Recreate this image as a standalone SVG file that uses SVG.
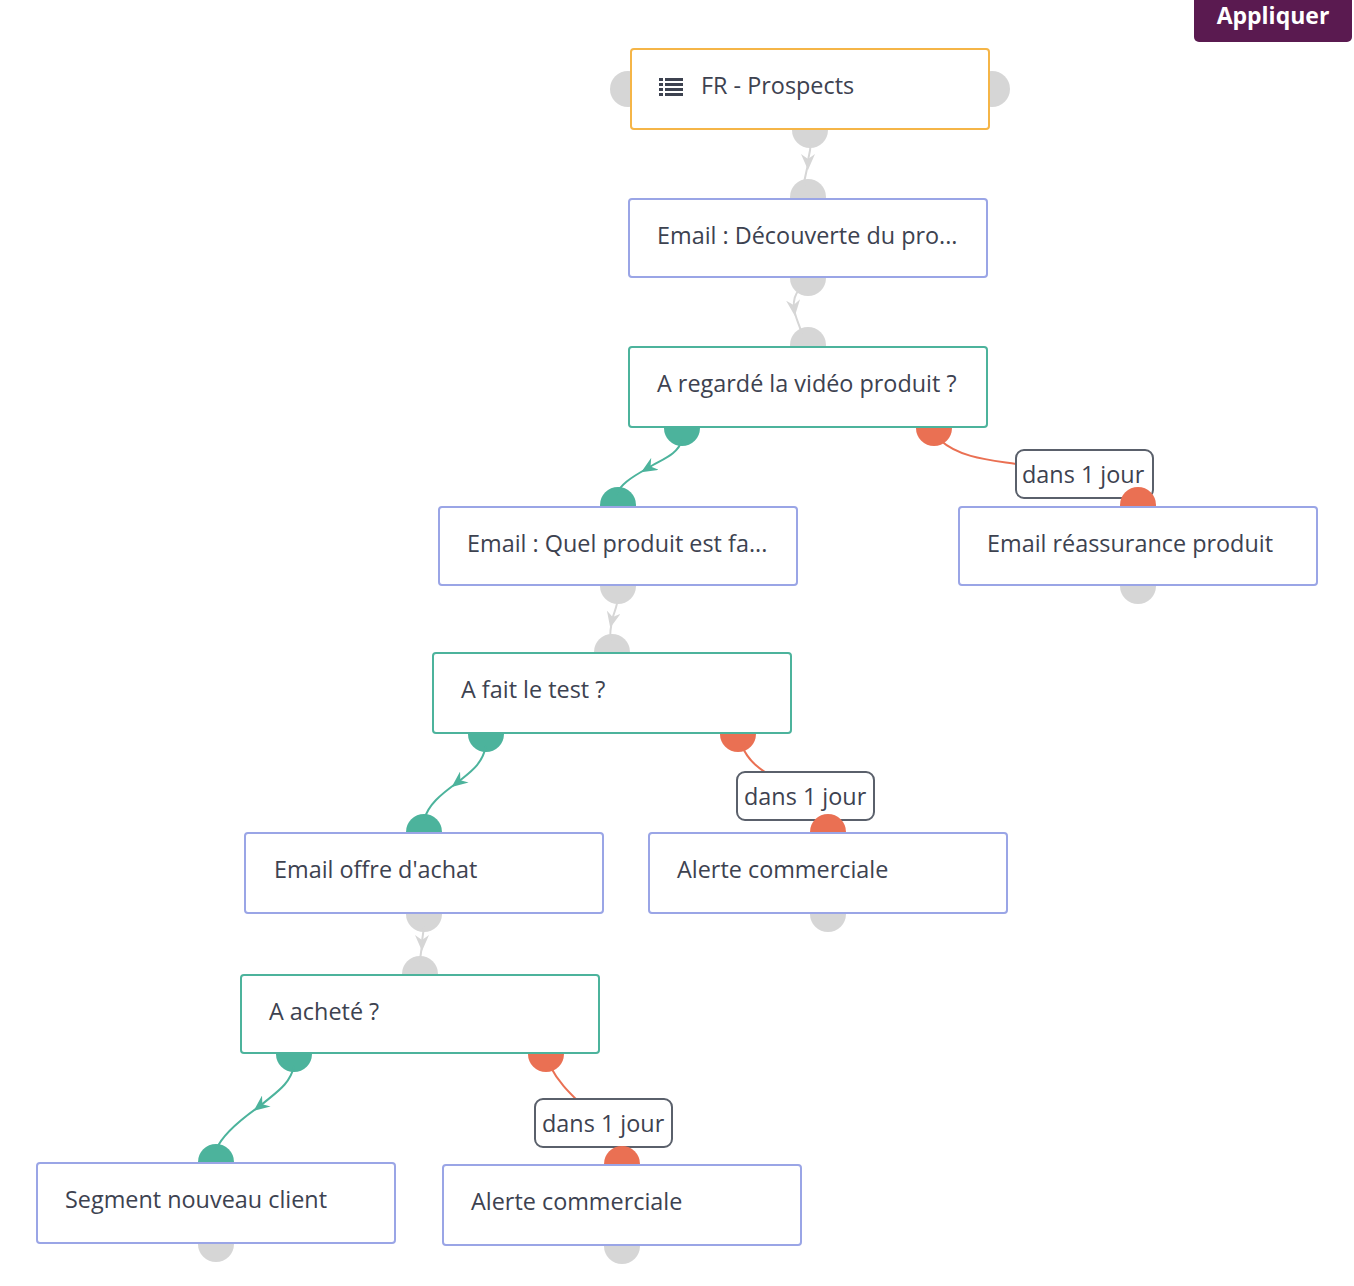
<svg xmlns="http://www.w3.org/2000/svg" width="1354" height="1286" viewBox="0 0 1354 1286">
<style>
.n{fill:#fff;stroke-width:2}
.e{stroke:#9aa5e6}.c{stroke:#4cb39c}.s{stroke:#f5b547}
.t{font-family:"Open Sans","Liberation Sans",sans-serif;font-size:23.4px;fill:#3d4250}
.pg{fill:#d6d6d6}.pk{fill:#4cb39c}.po{fill:#ea7053}
.lb{fill:#fff;stroke:#5a606b;stroke-width:2}
.lg{fill:none;stroke:#d6d6d6;stroke-width:2}
.lk{fill:none;stroke:#4cb39c;stroke-width:2}
.lo{fill:none;stroke:#ea7053;stroke-width:2}
</style>
<defs>
<marker id="ag" markerWidth="16" markerHeight="14" refX="8" refY="7" orient="auto" markerUnits="userSpaceOnUse"><path d="M0,0 L16,7 L0,14 L5,7 Z" fill="#d6d6d6"/></marker>
<marker id="ak" markerWidth="16" markerHeight="14" refX="8" refY="7" orient="auto" markerUnits="userSpaceOnUse"><path d="M0,0 L16,7 L0,14 L5,7 Z" fill="#4cb39c"/></marker>
<marker id="ao" markerWidth="16" markerHeight="14" refX="8" refY="7" orient="auto" markerUnits="userSpaceOnUse"><path d="M0,0 L16,7 L0,14 L5,7 Z" fill="#f3c9bd"/></marker>
</defs>
<g id="appliquer"><rect x="1194" y="-6" width="158" height="48" rx="5" fill="#5a1a50"/><text x="1273" y="24" text-anchor="middle" font-family="'Open Sans','Liberation Sans',sans-serif" font-size="23" font-weight="bold" fill="#fff">Appliquer</text></g>
<g id="ports">
<circle class="pg" cx="628" cy="89" r="18"/><circle class="pg" cx="992" cy="89" r="18"/><circle class="pg" cx="810" cy="130" r="18"/>
<circle class="pg" cx="808" cy="197" r="18"/><circle class="pg" cx="808" cy="278" r="18"/>
<circle class="pg" cx="808" cy="345" r="18"/><circle class="pk" cx="682" cy="428" r="18"/><circle class="po" cx="934" cy="428" r="18"/>
<circle class="pk" cx="618" cy="505" r="18"/><circle class="pg" cx="618" cy="586" r="18"/>
<circle class="pg" cx="1138" cy="586" r="18"/>
<circle class="pg" cx="612" cy="652" r="18"/><circle class="pk" cx="486" cy="734" r="18"/><circle class="po" cx="738" cy="734" r="18"/>
<circle class="pk" cx="424" cy="832" r="18"/><circle class="pg" cx="424" cy="914" r="18"/>
<circle class="pg" cx="828" cy="914" r="18"/>
<circle class="pg" cx="420" cy="974" r="18"/><circle class="pk" cx="294" cy="1054" r="18"/><circle class="po" cx="546" cy="1054" r="18"/>
<circle class="pk" cx="216" cy="1162" r="18"/><circle class="pg" cx="216" cy="1244" r="18"/>
<circle class="pg" cx="622" cy="1246" r="18"/>
</g>
<g id="connectors">
<path class="lg" marker-mid="url(#ag)" d="M810,140 C812,150 808,155 808,162 C808,170 804,175 804,187"/>
<path class="lg" marker-mid="url(#ag)" d="M800,288 C795,295 793,300 794,308 C795,318 800,325 802,335"/>
<path class="lk" marker-mid="url(#ak)" d="M682,440 C678,455 660,460 648,468 C630,478 620,485 616,495"/>
<path class="lo" d="M940,440 C960,458 990,460 1016,464"/>
<path class="lg" marker-mid="url(#ag)" d="M618,596 C618,605 614,612 612,620 C610,630 610,635 610,642"/>
<path class="lk" marker-mid="url(#ak)" d="M486,746 C482,765 470,772 458,782 C440,795 428,805 424,820"/>
<path class="lo" marker-mid="url(#ao)" d="M742,746 C750,765 765,772 780,782"/>
<path class="lg" marker-mid="url(#ag)" d="M424,924 C424,932 422,937 422,943 C422,950 420,955 420,962"/>
<path class="lk" marker-mid="url(#ak)" d="M294,1066 C290,1085 275,1093 260,1106 C240,1120 222,1135 216,1150"/>
<path class="lo" marker-mid="url(#ao)" d="M550,1066 C560,1085 572,1095 585,1108"/>
</g>
<g id="n1"><rect class="n s" x="631" y="49" width="358" height="80" rx="3"/>
<g fill="#3d4250"><rect x="659" y="78" width="4" height="3"/><rect x="665" y="78" width="18" height="3"/><rect x="659" y="83" width="4" height="3"/><rect x="665" y="83" width="18" height="3"/><rect x="659" y="88" width="4" height="3"/><rect x="665" y="88" width="18" height="3"/><rect x="659" y="93" width="4" height="3"/><rect x="665" y="93" width="18" height="3"/></g>
<text class="t" x="701" y="94">FR - Prospects</text></g>
<g id="n2"><rect class="n e" x="629" y="199" width="358" height="78" rx="3"/><text class="t" x="657" y="244">Email : Découverte du pro...</text></g>
<g id="n3"><rect class="n c" x="629" y="347" width="358" height="80" rx="3"/><text class="t" x="657" y="392">A regardé la vidéo produit ?</text></g>
<g id="n4"><rect class="n e" x="439" y="507" width="358" height="78" rx="3"/><text class="t" x="467" y="552">Email : Quel produit est fa...</text></g>
<g id="l1"><rect class="lb" x="1016" y="450" width="137" height="48" rx="8"/><text class="t" x="1022" y="483">dans 1 jour</text></g>
<circle class="po" cx="1138" cy="505" r="18"/>
<g id="n5"><rect class="n e" x="959" y="507" width="358" height="78" rx="3"/><text class="t" x="987" y="552">Email réassurance produit</text></g>
<g id="n6"><rect class="n c" x="433" y="653" width="358" height="80" rx="3"/><text class="t" x="461" y="698">A fait le test ?</text></g>
<g id="l2"><rect class="lb" x="737" y="772" width="137" height="48" rx="8"/><text class="t" x="744" y="805">dans 1 jour</text></g>
<circle class="po" cx="828" cy="832" r="18"/>
<g id="n7"><rect class="n e" x="245" y="833" width="358" height="80" rx="3"/><text class="t" x="274" y="878">Email offre d'achat</text></g>
<g id="n8"><rect class="n e" x="649" y="833" width="358" height="80" rx="3"/><text class="t" x="677" y="878">Alerte commerciale</text></g>
<g id="n9"><rect class="n c" x="241" y="975" width="358" height="78" rx="3"/><text class="t" x="269" y="1020">A acheté ?</text></g>
<g id="l3"><rect class="lb" x="535" y="1099" width="137" height="48" rx="8"/><text class="t" x="542" y="1132">dans 1 jour</text></g>
<circle class="po" cx="622" cy="1164" r="18"/>
<g id="n10"><rect class="n e" x="37" y="1163" width="358" height="80" rx="3"/><text class="t" x="65" y="1208">Segment nouveau client</text></g>
<g id="n11"><rect class="n e" x="443" y="1165" width="358" height="80" rx="3"/><text class="t" x="471" y="1210">Alerte commerciale</text></g>
</svg>
